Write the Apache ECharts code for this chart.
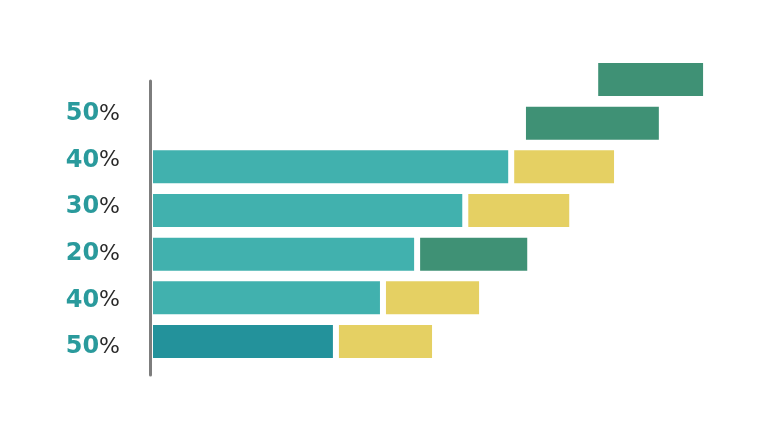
<!DOCTYPE html>
<html>
<head>
<meta charset="utf-8">
<style>
  html, body { margin: 0; padding: 0; background: #ffffff; }
  #chart { width: 768px; height: 432px; }
</style>
<script src="https://cdn.jsdelivr.net/npm/echarts@6/dist/echarts.min.js"></script>
</head>
<body>
<div id="chart"></div>
<script>
// Rows listed top to bottom
var rowNames = ['r1', 'r2', 'r3', 'r4', 'r5', 'r6', 'r7'];
var offsetValues = [79.5, 66.6, 0, 0, 0, 0, 0];
var firstValues = ['-', '-', 64.5, 56.3, 47.7, 41.6, 33.2];
var secondValues = [19.8, 24.8, 18.9, 19.1, 20.2, 17.7, 17.7];
var labelNumbers = ['50', '40', '30', '20', '40', '50'];

var TEAL = '#41b1ae', DARK_TEAL = '#23929b', YELLOW = '#e5d063', GREEN = '#3f9175';
var firstColors = [TEAL, TEAL, TEAL, TEAL, TEAL, TEAL, DARK_TEAL];
var secondColors = [GREEN, GREEN, YELLOW, YELLOW, GREEN, YELLOW, YELLOW];

var chart = echarts.init(document.getElementById('chart'));
var border = { borderColor: '#ffffff', borderWidth: 3 };

chart.setOption({
  backgroundColor: '#ffffff',
  animation: false,
  grid: [
    { left: 150, right: 58, top: 57.6, bottom: 68.6 },
    { left: 150, right: 58, top: 90.7, bottom: 61.7 },
    { left: 150, right: 58, top: 81, bottom: 57 }
  ],
  xAxis: [
    { gridIndex: 0, type: 'value', min: 0, max: 100, show: false },
    { gridIndex: 1, type: 'value', min: 0, max: 100, show: false },
    { gridIndex: 2, type: 'value', min: 0, max: 100, show: false }
  ],
  yAxis: [
    { gridIndex: 0, type: 'category', data: rowNames, inverse: true, show: false },
    {
      gridIndex: 1, type: 'category', data: labelNumbers, inverse: true,
      axisLine: { show: false }, axisTick: { show: false },
      axisLabel: {
        margin: 30,
        formatter: function (v) { return '{n|' + v + '}{p|%}'; },
        rich: {
          n: { fontFamily: 'DejaVu Sans', fontWeight: 'bold', fontSize: 24, color: '#2a9a9c' },
          p: { fontFamily: 'DejaVu Sans', fontWeight: 'normal', fontSize: 22, color: '#2a2a2a' }
        }
      }
    },
    {
      gridIndex: 2, type: 'value', min: 0, max: 1, z: 20,
      axisLine: { show: true, lineStyle: { color: '#7d7d7d', width: 3 } },
      axisTick: { show: false }, axisLabel: { show: false }, splitLine: { show: false }
    }
  ],
  series: [
    {
      type: 'bar', stack: 'row', xAxisIndex: 0, yAxisIndex: 0, barWidth: 39,
      data: offsetValues, itemStyle: { color: 'transparent', borderWidth: 0 },
      silent: true
    },
    {
      type: 'bar', stack: 'row', xAxisIndex: 0, yAxisIndex: 0, barWidth: 39,
      data: firstValues.map(function (v, i) {
        return { value: v, itemStyle: Object.assign({ color: firstColors[i] }, border) };
      })
    },
    {
      type: 'bar', stack: 'row', xAxisIndex: 0, yAxisIndex: 0, barWidth: 39,
      data: secondValues.map(function (v, i) {
        return { value: v, itemStyle: Object.assign({ color: secondColors[i] }, border) };
      })
    }
  ]
});
</script>
</body>
</html>
